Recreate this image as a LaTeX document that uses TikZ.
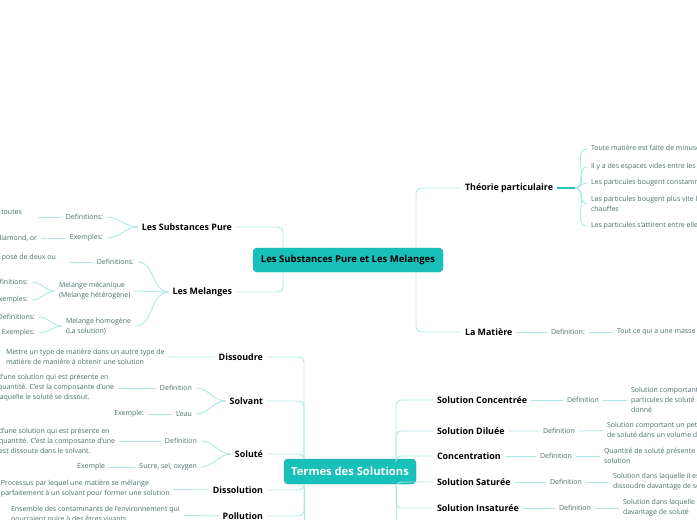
\documentclass[tikz,border=0pt]{standalone}
\usepackage{fontspec}
\setmainfont{Open Sans}
\usetikzlibrary{calc,positioning}
\definecolor{hubc}{HTML}{17C0B8}
\definecolor{hubd}{HTML}{12A8A1}
\definecolor{linkc}{HTML}{AEE8E5}
\definecolor{notec}{HTML}{4A6F6C}
\definecolor{fanc}{HTML}{2CC6BF}
\tikzset{
  hub/.style={draw=hubd,thin,rounded corners=4pt,fill=hubc,font=\bfseries\fontsize{9.5}{11}\selectfont,minimum height=24,inner xsep=6pt,outer sep=0pt},
  topic/.style={font=\bfseries\fontsize{8.9}{10}\selectfont,inner sep=1pt,outer sep=3pt},
  note/.style={text=notec,font=\fontsize{7}{10}\selectfont,align=left,inner sep=1pt,outer sep=3pt},
  link/.style={draw=linkc,line width=0.9pt},
  trunk/.style={link,rounded corners=5pt}
}

\begin{document}
\begin{tikzpicture}[x=1pt,y=-1pt]
\useasboundingbox (0,0) rectangle (697,520);
\fill[white] (0,0) rectangle (697,520);
\clip (0,0) rectangle (697,520);
\node[hub,minimum width=190] (subst) at (348,260) {Les Substances Pure et Les Melanges};
\coordinate (tl) at (283,260);
\coordinate (tr) at (416,260);
\node[topic,anchor=west] (theo) at (461,188) {Théorie particulaire};
\coordinate (tp) at (575,188);
\node[note,anchor=west] (t1) at (587,149) {Toute matière est faite de minuscules particules};
\node[note,anchor=west] (t2) at (587,167) {Il y a des espaces vides entre les particules};
\node[note,anchor=west] (t3) at (587,183) {Les particules bougent constamment};
\node[note,anchor=west] (t4) at (587,204) {Les particules bougent plus vite lorsqu'elles sont\\chauffes};
\node[note,anchor=west] (t5) at (587,226) {Les particules s'attirent entre elles};
\node[topic,anchor=west] (mat) at (461,332) {La Matière};
\node[note,anchor=west] (matd) at (547,332) {Definition:};
\node[note,anchor=west] (matn) at (613,332) {Tout ce qui a une masse et un volume};
\node[topic,anchor=east] (pure) at (236,227) {Les Substances Pure};
\node[note,anchor=east] (pured) at (107,217) {Definitions:};
\node[note,anchor=east] (puree) at (107,238) {Exemples:};
\node[note,anchor=base east] (puredn) at (26,214) {toutes};
\coordinate (pureend) at (38,217);
\node[note,anchor=east] (pureen) at (41,238) {diamond, or};
\node[topic,anchor=east] (mel) at (236,292) {Les Melanges};
\node[note,anchor=east] (meld) at (138,262) {Definitions:};
\node[note,anchor=base east] (meldn) at (60,259) {posé de deux ou};
\coordinate (melend) at (69,262);
\node[note,anchor=west] (meca) at (55,291) {Melange mécanique\\(Melange hétérogène)};
\node[note,anchor=west] (homo) at (62,326) {Melange homogène\\(La solution)};
\node[note,anchor=east] (mecad) at (32,282) {Definitions:};
\node[note,anchor=east] (mecae) at (32,300) {Exemples:};
\node[note,anchor=east] (homod) at (39,317) {Definitions:};
\node[note,anchor=east] (homoe) at (39,333) {Exemples:};
\draw[trunk] (subst.north -| tl) |- (pure.east);
\draw[trunk] (subst.south -| tl) |- (mel.east);
\draw[trunk] (subst.north -| tr) |- (theo.west);
\draw[trunk] (subst.south -| tr) |- (mat.west);
\draw[link,draw=fanc,line width=1.6pt] (theo.east) -- (tp);
\foreach \n in {t1,t2,t3,t4,t5} \draw[link] (tp) to[out=0,in=180] (\n.west);
\draw[link] (mat) -- (matd) (matd) -- (matn);
\foreach \n in {pured,puree} \draw[link] (pure.west) to[out=180,in=0] (\n.east);
\draw[link] (pured) -- (pureend) (puree) -- (pureen);
\foreach \n in {meld,meca,homo} \draw[link] (mel.west) to[out=180,in=0] (\n.east);
\draw[link] (meld) -- (melend);
\foreach \n in {mecad,mecae} \draw[link] (meca.west) to[out=180,in=0] (\n.east);
\foreach \n in {homod,homoe} \draw[link] (homo.west) to[out=180,in=0] (\n.east);

\node[hub,text=white,font=\bfseries\fontsize{11.2}{13}\selectfont,minimum width=132,minimum height=25] (terms) at (350,471.5) {Termes des Solutions};
\coordinate (lt) at (304,471);
\coordinate (rt) at (396,471);
\coordinate (ltend) at (304,530);
\coordinate (rtend) at (396,530);
\node[topic,anchor=east] (diss) at (267,357) {Dissoudre};
\node[note,anchor=west] (dissn) at (2,357) {Mettre un type de matière dans un autre type de\\matière de manière à obtenir une solution};
\node[topic,anchor=east] (solv) at (267,401) {Solvant};
\node[note,anchor=east] (solvd) at (196,388) {Definition};
\node[note,anchor=east] (solve) at (196,414) {L'eau};
\node[note,anchor=east] (solvel) at (148,414) {Exemple:};
\node[note,anchor=west] (solvdn) at (-6,388) {d'une solution qui est présente en\\quantité. C'est la composante d'une\\laquelle le soluté se dissout.};
\node[topic,anchor=east] (solu) at (267,454) {Soluté};
\node[note,anchor=east] (solud) at (201,441) {Definition};
\node[note,anchor=east] (solue) at (201,467) {Sucre, sel, oxygen};
\node[note,anchor=east] (soluel) at (109,467) {Exemple};
\node[note,anchor=west] (soludn) at (-5,441) {d'une solution qui est présente en\\quantité. C'est la composante d'une\\est dissoute dans le solvant.};
\node[topic,anchor=east] (dsol) at (267,490) {Dissolution};
\node[note,anchor=west] (dsoln) at (-3,489) {Processus par lequel une matière se mélange\\parfaitement à un solvant pour former une solution};
\node[topic,anchor=east] (poll) at (267,516) {Pollution};
\node[note,anchor=west] (polln) at (7,515) {Ensemble des contaminants de l'environnement qui\\pourraient nuire à des êtres vivants};
\node[topic,anchor=west] (sconc) at (433,400) {Solution Concentrée};
\node[note,anchor=west] (sconcd) at (563,400) {Definition};
\node[note,anchor=west] (sconcn) at (627,400) {Solution comportant une grande quantité de\\particules de soluté dans un volume\\donné};
\node[topic,anchor=west] (sdil) at (433,431) {Solution Diluée};
\node[note,anchor=west] (sdild) at (539,431) {Definition};
\node[note,anchor=west] (sdiln) at (603,430) {Solution comportant un petit nombre de particules\\de soluté dans un volume donné};
\node[topic,anchor=west] (concn) at (433,456) {Concentration};
\node[note,anchor=west] (concnd) at (536,456) {Definition};
\node[note,anchor=west] (concnn) at (600,456) {Quantité de soluté présente dans une\\solution};
\node[topic,anchor=west] (ssat) at (433,482) {Solution Saturée};
\node[note,anchor=west] (ssatd) at (546,482) {Definition};
\node[note,anchor=west] (ssatn) at (609,482) {Solution dans laquelle il est impossible de\\dissoudre davantage de soluté};
\node[topic,anchor=west] (sins) at (433,508) {Solution Insaturée};
\node[note,anchor=west] (sinsd) at (555,508) {Definition};
\node[note,anchor=west] (sinsn) at (619,508) {Solution dans laquelle il est possible de dissoudre\\davantage de soluté};
\foreach \n in {diss,solv,solu} \draw[trunk] (terms.north -| lt) |- (\n.east);
\foreach \n in {dsol,poll} \draw[trunk] (terms.south -| lt) |- (\n.east);
\draw[link] (terms.south -| lt) -- (ltend);
\foreach \n in {sconc,sdil,concn} \draw[trunk] (terms.north -| rt) |- (\n.west);
\foreach \n in {ssat,sins} \draw[trunk] (terms.south -| rt) |- (\n.west);
\draw[link] (terms.south -| rt) -- (rtend);
\draw[link] (diss) -- (dissn) (dsol) -- (dsoln) (poll) -- (polln);
\foreach \n in {solvd,solve} \draw[link] (solv.west) to[out=180,in=0] (\n.east);
\draw[link] (solvd) -- (solvdn) (solve) -- (solvel);
\foreach \n in {solud,solue} \draw[link] (solu.west) to[out=180,in=0] (\n.east);
\draw[link] (solud) -- (soludn) (solue) -- (soluel);
\foreach \n in {sconc,sdil,concn,ssat,sins} \draw[link] (\n) -- (\n d) (\n d) -- (\n n);
\end{tikzpicture}
\end{document}
